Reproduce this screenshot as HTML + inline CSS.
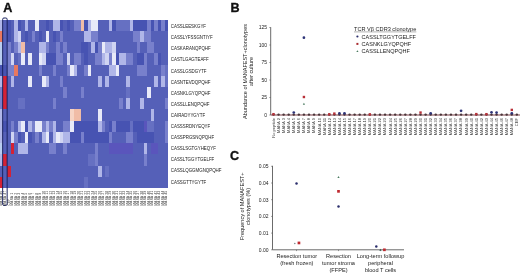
<!DOCTYPE html><html><head><meta charset="utf-8"><style>html,body{margin:0;padding:0;background:#fff;}svg{display:block}text{font-family:"Liberation Sans",Arial,sans-serif;}</style></head><body>
<svg width="520" height="273" viewBox="0 0 520 273">
<text x="3.3" y="11.6" font-size="12.6" font-weight="bold" fill="#111" stroke="#111" stroke-width="0.35">A</text>
<defs><filter id="bl" x="-2%" y="-2%" width="104%" height="104%"><feGaussianBlur stdDeviation="0.35"/></filter></defs>
<g shape-rendering="crispEdges" filter="url(#bl)">
<rect x="0.30" y="19.60" width="2.75" height="11.28" fill="#b0b6e8"/>
<rect x="3.00" y="19.60" width="4.35" height="11.28" fill="#5560b8"/>
<rect x="7.30" y="19.60" width="3.55" height="11.28" fill="#4652b2"/>
<rect x="10.80" y="19.60" width="3.55" height="11.28" fill="#5560b8"/>
<rect x="14.30" y="19.60" width="3.55" height="11.28" fill="#b0b6e8"/>
<rect x="17.80" y="19.60" width="3.55" height="11.28" fill="#4652b2"/>
<rect x="21.30" y="19.60" width="3.55" height="11.28" fill="#5560b8"/>
<rect x="24.80" y="19.60" width="3.55" height="11.28" fill="#b0b6e8"/>
<rect x="28.30" y="19.60" width="3.55" height="11.28" fill="#5560b8"/>
<rect x="31.80" y="19.60" width="3.55" height="11.28" fill="#5560b8"/>
<rect x="35.30" y="19.60" width="3.55" height="11.28" fill="#e8eaf8"/>
<rect x="38.80" y="19.60" width="3.55" height="11.28" fill="#5560b8"/>
<rect x="42.30" y="19.60" width="3.55" height="11.28" fill="#5560b8"/>
<rect x="45.80" y="19.60" width="3.55" height="11.28" fill="#4652b2"/>
<rect x="49.30" y="19.60" width="3.55" height="11.28" fill="#5560b8"/>
<rect x="52.80" y="19.60" width="3.55" height="11.28" fill="#b0b6e8"/>
<rect x="56.30" y="19.60" width="3.55" height="11.28" fill="#b0b6e8"/>
<rect x="59.80" y="19.60" width="3.55" height="11.28" fill="#4652b2"/>
<rect x="63.30" y="19.60" width="3.55" height="11.28" fill="#5560b8"/>
<rect x="66.80" y="19.60" width="3.55" height="11.28" fill="#4652b2"/>
<rect x="70.30" y="19.60" width="3.55" height="11.28" fill="#5560b8"/>
<rect x="73.80" y="19.60" width="3.55" height="11.28" fill="#7880cc"/>
<rect x="77.30" y="19.60" width="3.55" height="11.28" fill="#7880cc"/>
<rect x="80.80" y="19.60" width="3.55" height="11.28" fill="#f0bca6"/>
<rect x="84.30" y="19.60" width="3.55" height="11.28" fill="#4652b2"/>
<rect x="87.80" y="19.60" width="3.55" height="11.28" fill="#b0b6e8"/>
<rect x="91.30" y="19.60" width="3.55" height="11.28" fill="#e8eaf8"/>
<rect x="94.80" y="19.60" width="3.55" height="11.28" fill="#e8eaf8"/>
<rect x="98.30" y="19.60" width="3.55" height="11.28" fill="#5560b8"/>
<rect x="101.80" y="19.60" width="3.55" height="11.28" fill="#5560b8"/>
<rect x="105.30" y="19.60" width="3.55" height="11.28" fill="#5560b8"/>
<rect x="108.80" y="19.60" width="3.55" height="11.28" fill="#b0b6e8"/>
<rect x="112.30" y="19.60" width="3.55" height="11.28" fill="#4652b2"/>
<rect x="115.80" y="19.60" width="3.55" height="11.28" fill="#6670c2"/>
<rect x="119.30" y="19.60" width="3.55" height="11.28" fill="#6670c2"/>
<rect x="122.80" y="19.60" width="3.55" height="11.28" fill="#6670c2"/>
<rect x="126.30" y="19.60" width="3.55" height="11.28" fill="#6670c2"/>
<rect x="129.80" y="19.60" width="3.55" height="11.28" fill="#b0b6e8"/>
<rect x="133.30" y="19.60" width="3.55" height="11.28" fill="#4652b2"/>
<rect x="136.80" y="19.60" width="3.55" height="11.28" fill="#4652b2"/>
<rect x="140.30" y="19.60" width="3.55" height="11.28" fill="#4652b2"/>
<rect x="143.80" y="19.60" width="3.55" height="11.28" fill="#4652b2"/>
<rect x="147.30" y="19.60" width="3.55" height="11.28" fill="#7880cc"/>
<rect x="150.80" y="19.60" width="3.55" height="11.28" fill="#4652b2"/>
<rect x="154.30" y="19.60" width="3.55" height="11.28" fill="#7880cc"/>
<rect x="157.80" y="19.60" width="3.55" height="11.28" fill="#4652b2"/>
<rect x="161.30" y="19.60" width="3.55" height="11.28" fill="#7880cc"/>
<rect x="164.80" y="19.60" width="3.55" height="11.28" fill="#4652b2"/>
<rect x="0.30" y="30.83" width="2.75" height="11.28" fill="#e87860"/>
<rect x="3.00" y="30.83" width="4.35" height="11.28" fill="#5560b8"/>
<rect x="7.30" y="30.83" width="3.55" height="11.28" fill="#4652b2"/>
<rect x="10.80" y="30.83" width="3.55" height="11.28" fill="#5560b8"/>
<rect x="14.30" y="30.83" width="3.55" height="11.28" fill="#b0b6e8"/>
<rect x="17.80" y="30.83" width="3.55" height="11.28" fill="#d0d4f2"/>
<rect x="21.30" y="30.83" width="3.55" height="11.28" fill="#5560b8"/>
<rect x="24.80" y="30.83" width="3.55" height="11.28" fill="#4652b2"/>
<rect x="28.30" y="30.83" width="3.55" height="11.28" fill="#5560b8"/>
<rect x="31.80" y="30.83" width="3.55" height="11.28" fill="#7880cc"/>
<rect x="35.30" y="30.83" width="3.55" height="11.28" fill="#5560b8"/>
<rect x="38.80" y="30.83" width="3.55" height="11.28" fill="#4652b2"/>
<rect x="42.30" y="30.83" width="3.55" height="11.28" fill="#5560b8"/>
<rect x="45.80" y="30.83" width="3.55" height="11.28" fill="#e8eaf8"/>
<rect x="49.30" y="30.83" width="3.55" height="11.28" fill="#5560b8"/>
<rect x="52.80" y="30.83" width="3.55" height="11.28" fill="#4652b2"/>
<rect x="56.30" y="30.83" width="3.55" height="11.28" fill="#5560b8"/>
<rect x="59.80" y="30.83" width="3.55" height="11.28" fill="#7880cc"/>
<rect x="63.30" y="30.83" width="3.55" height="11.28" fill="#5560b8"/>
<rect x="66.80" y="30.83" width="3.55" height="11.28" fill="#5560b8"/>
<rect x="70.30" y="30.83" width="3.55" height="11.28" fill="#5560b8"/>
<rect x="73.80" y="30.83" width="3.55" height="11.28" fill="#5560b8"/>
<rect x="77.30" y="30.83" width="3.55" height="11.28" fill="#5560b8"/>
<rect x="80.80" y="30.83" width="3.55" height="11.28" fill="#5560b8"/>
<rect x="84.30" y="30.83" width="3.55" height="11.28" fill="#b0b6e8"/>
<rect x="87.80" y="30.83" width="3.55" height="11.28" fill="#b0b6e8"/>
<rect x="91.30" y="30.83" width="3.55" height="11.28" fill="#7880cc"/>
<rect x="94.80" y="30.83" width="3.55" height="11.28" fill="#7880cc"/>
<rect x="98.30" y="30.83" width="3.55" height="11.28" fill="#5560b8"/>
<rect x="101.80" y="30.83" width="3.55" height="11.28" fill="#5560b8"/>
<rect x="105.30" y="30.83" width="3.55" height="11.28" fill="#5560b8"/>
<rect x="108.80" y="30.83" width="3.55" height="11.28" fill="#5560b8"/>
<rect x="112.30" y="30.83" width="3.55" height="11.28" fill="#5560b8"/>
<rect x="115.80" y="30.83" width="3.55" height="11.28" fill="#5560b8"/>
<rect x="119.30" y="30.83" width="3.55" height="11.28" fill="#5560b8"/>
<rect x="122.80" y="30.83" width="3.55" height="11.28" fill="#5560b8"/>
<rect x="126.30" y="30.83" width="3.55" height="11.28" fill="#5560b8"/>
<rect x="129.80" y="30.83" width="3.55" height="11.28" fill="#5560b8"/>
<rect x="133.30" y="30.83" width="3.55" height="11.28" fill="#7880cc"/>
<rect x="136.80" y="30.83" width="3.55" height="11.28" fill="#7880cc"/>
<rect x="140.30" y="30.83" width="3.55" height="11.28" fill="#b0b6e8"/>
<rect x="143.80" y="30.83" width="3.55" height="11.28" fill="#7880cc"/>
<rect x="147.30" y="30.83" width="3.55" height="11.28" fill="#7880cc"/>
<rect x="150.80" y="30.83" width="3.55" height="11.28" fill="#5560b8"/>
<rect x="154.30" y="30.83" width="3.55" height="11.28" fill="#5560b8"/>
<rect x="157.80" y="30.83" width="3.55" height="11.28" fill="#5560b8"/>
<rect x="161.30" y="30.83" width="3.55" height="11.28" fill="#5560b8"/>
<rect x="164.80" y="30.83" width="3.55" height="11.28" fill="#5560b8"/>
<rect x="0.30" y="42.05" width="2.75" height="11.28" fill="#b8cdf0"/>
<rect x="3.00" y="42.05" width="4.35" height="11.28" fill="#5560b8"/>
<rect x="7.30" y="42.05" width="3.55" height="11.28" fill="#7880cc"/>
<rect x="10.80" y="42.05" width="3.55" height="11.28" fill="#5560b8"/>
<rect x="14.30" y="42.05" width="3.55" height="11.28" fill="#7880cc"/>
<rect x="17.80" y="42.05" width="3.55" height="11.28" fill="#b0b6e8"/>
<rect x="21.30" y="42.05" width="3.55" height="11.28" fill="#f0bca6"/>
<rect x="24.80" y="42.05" width="3.55" height="11.28" fill="#5560b8"/>
<rect x="28.30" y="42.05" width="3.55" height="11.28" fill="#5560b8"/>
<rect x="31.80" y="42.05" width="3.55" height="11.28" fill="#5560b8"/>
<rect x="35.30" y="42.05" width="3.55" height="11.28" fill="#5560b8"/>
<rect x="38.80" y="42.05" width="3.55" height="11.28" fill="#b0b6e8"/>
<rect x="42.30" y="42.05" width="3.55" height="11.28" fill="#b0b6e8"/>
<rect x="45.80" y="42.05" width="3.55" height="11.28" fill="#7880cc"/>
<rect x="49.30" y="42.05" width="3.55" height="11.28" fill="#5560b8"/>
<rect x="52.80" y="42.05" width="3.55" height="11.28" fill="#5560b8"/>
<rect x="56.30" y="42.05" width="3.55" height="11.28" fill="#7880cc"/>
<rect x="59.80" y="42.05" width="3.55" height="11.28" fill="#5560b8"/>
<rect x="63.30" y="42.05" width="3.55" height="11.28" fill="#7880cc"/>
<rect x="66.80" y="42.05" width="3.55" height="11.28" fill="#5560b8"/>
<rect x="70.30" y="42.05" width="3.55" height="11.28" fill="#5560b8"/>
<rect x="73.80" y="42.05" width="3.55" height="11.28" fill="#5560b8"/>
<rect x="77.30" y="42.05" width="3.55" height="11.28" fill="#5560b8"/>
<rect x="80.80" y="42.05" width="3.55" height="11.28" fill="#4652b2"/>
<rect x="84.30" y="42.05" width="3.55" height="11.28" fill="#4652b2"/>
<rect x="87.80" y="42.05" width="3.55" height="11.28" fill="#5560b8"/>
<rect x="91.30" y="42.05" width="3.55" height="11.28" fill="#b0b6e8"/>
<rect x="94.80" y="42.05" width="3.55" height="11.28" fill="#4652b2"/>
<rect x="98.30" y="42.05" width="3.55" height="11.28" fill="#7880cc"/>
<rect x="101.80" y="42.05" width="3.55" height="11.28" fill="#e8eaf8"/>
<rect x="105.30" y="42.05" width="3.55" height="11.28" fill="#b0b6e8"/>
<rect x="108.80" y="42.05" width="3.55" height="11.28" fill="#b0b6e8"/>
<rect x="112.30" y="42.05" width="3.55" height="11.28" fill="#d0d4f2"/>
<rect x="115.80" y="42.05" width="3.55" height="11.28" fill="#5560b8"/>
<rect x="119.30" y="42.05" width="3.55" height="11.28" fill="#5560b8"/>
<rect x="122.80" y="42.05" width="3.55" height="11.28" fill="#5560b8"/>
<rect x="126.30" y="42.05" width="3.55" height="11.28" fill="#5560b8"/>
<rect x="129.80" y="42.05" width="3.55" height="11.28" fill="#5560b8"/>
<rect x="133.30" y="42.05" width="3.55" height="11.28" fill="#5560b8"/>
<rect x="136.80" y="42.05" width="3.55" height="11.28" fill="#7880cc"/>
<rect x="140.30" y="42.05" width="3.55" height="11.28" fill="#5560b8"/>
<rect x="143.80" y="42.05" width="3.55" height="11.28" fill="#5560b8"/>
<rect x="147.30" y="42.05" width="3.55" height="11.28" fill="#7880cc"/>
<rect x="150.80" y="42.05" width="3.55" height="11.28" fill="#7880cc"/>
<rect x="154.30" y="42.05" width="3.55" height="11.28" fill="#5560b8"/>
<rect x="157.80" y="42.05" width="3.55" height="11.28" fill="#5560b8"/>
<rect x="161.30" y="42.05" width="3.55" height="11.28" fill="#5560b8"/>
<rect x="164.80" y="42.05" width="3.55" height="11.28" fill="#5560b8"/>
<rect x="0.30" y="53.28" width="2.75" height="11.28" fill="#b8cdf0"/>
<rect x="3.00" y="53.28" width="4.35" height="11.28" fill="#5560b8"/>
<rect x="7.30" y="53.28" width="3.55" height="11.28" fill="#7880cc"/>
<rect x="10.80" y="53.28" width="3.55" height="11.28" fill="#d0d4f2"/>
<rect x="14.30" y="53.28" width="3.55" height="11.28" fill="#5560b8"/>
<rect x="17.80" y="53.28" width="3.55" height="11.28" fill="#6670c2"/>
<rect x="21.30" y="53.28" width="3.55" height="11.28" fill="#e8eaf8"/>
<rect x="24.80" y="53.28" width="3.55" height="11.28" fill="#5560b8"/>
<rect x="28.30" y="53.28" width="3.55" height="11.28" fill="#e8eaf8"/>
<rect x="31.80" y="53.28" width="3.55" height="11.28" fill="#5560b8"/>
<rect x="35.30" y="53.28" width="3.55" height="11.28" fill="#5560b8"/>
<rect x="38.80" y="53.28" width="3.55" height="11.28" fill="#e8eaf8"/>
<rect x="42.30" y="53.28" width="3.55" height="11.28" fill="#d0d4f2"/>
<rect x="45.80" y="53.28" width="3.55" height="11.28" fill="#4652b2"/>
<rect x="49.30" y="53.28" width="3.55" height="11.28" fill="#4652b2"/>
<rect x="52.80" y="53.28" width="3.55" height="11.28" fill="#4652b2"/>
<rect x="56.30" y="53.28" width="3.55" height="11.28" fill="#7880cc"/>
<rect x="59.80" y="53.28" width="3.55" height="11.28" fill="#7880cc"/>
<rect x="63.30" y="53.28" width="3.55" height="11.28" fill="#5560b8"/>
<rect x="66.80" y="53.28" width="3.55" height="11.28" fill="#d0d4f2"/>
<rect x="70.30" y="53.28" width="3.55" height="11.28" fill="#5560b8"/>
<rect x="73.80" y="53.28" width="3.55" height="11.28" fill="#7880cc"/>
<rect x="77.30" y="53.28" width="3.55" height="11.28" fill="#7880cc"/>
<rect x="80.80" y="53.28" width="3.55" height="11.28" fill="#5560b8"/>
<rect x="84.30" y="53.28" width="3.55" height="11.28" fill="#4652b2"/>
<rect x="87.80" y="53.28" width="3.55" height="11.28" fill="#5560b8"/>
<rect x="91.30" y="53.28" width="3.55" height="11.28" fill="#5560b8"/>
<rect x="94.80" y="53.28" width="3.55" height="11.28" fill="#7880cc"/>
<rect x="98.30" y="53.28" width="3.55" height="11.28" fill="#7880cc"/>
<rect x="101.80" y="53.28" width="3.55" height="11.28" fill="#b0b6e8"/>
<rect x="105.30" y="53.28" width="3.55" height="11.28" fill="#d0d4f2"/>
<rect x="108.80" y="53.28" width="3.55" height="11.28" fill="#7880cc"/>
<rect x="112.30" y="53.28" width="3.55" height="11.28" fill="#e8eaf8"/>
<rect x="115.80" y="53.28" width="3.55" height="11.28" fill="#4652b2"/>
<rect x="119.30" y="53.28" width="3.55" height="11.28" fill="#b0b6e8"/>
<rect x="122.80" y="53.28" width="3.55" height="11.28" fill="#b0b6e8"/>
<rect x="126.30" y="53.28" width="3.55" height="11.28" fill="#7880cc"/>
<rect x="129.80" y="53.28" width="3.55" height="11.28" fill="#7880cc"/>
<rect x="133.30" y="53.28" width="3.55" height="11.28" fill="#5560b8"/>
<rect x="136.80" y="53.28" width="3.55" height="11.28" fill="#4652b2"/>
<rect x="140.30" y="53.28" width="3.55" height="11.28" fill="#4652b2"/>
<rect x="143.80" y="53.28" width="3.55" height="11.28" fill="#7880cc"/>
<rect x="147.30" y="53.28" width="3.55" height="11.28" fill="#5560b8"/>
<rect x="150.80" y="53.28" width="3.55" height="11.28" fill="#5560b8"/>
<rect x="154.30" y="53.28" width="3.55" height="11.28" fill="#7880cc"/>
<rect x="157.80" y="53.28" width="3.55" height="11.28" fill="#4652b2"/>
<rect x="161.30" y="53.28" width="3.55" height="11.28" fill="#5560b8"/>
<rect x="164.80" y="53.28" width="3.55" height="11.28" fill="#5560b8"/>
<rect x="0.30" y="64.51" width="2.75" height="11.28" fill="#4652b2"/>
<rect x="3.00" y="64.51" width="4.35" height="11.28" fill="#4652b2"/>
<rect x="7.30" y="64.51" width="3.55" height="11.28" fill="#7880cc"/>
<rect x="10.80" y="64.51" width="3.55" height="11.28" fill="#7880cc"/>
<rect x="14.30" y="64.51" width="3.55" height="11.28" fill="#e87860"/>
<rect x="17.80" y="64.51" width="3.55" height="11.28" fill="#5560b8"/>
<rect x="21.30" y="64.51" width="3.55" height="11.28" fill="#5560b8"/>
<rect x="24.80" y="64.51" width="3.55" height="11.28" fill="#5560b8"/>
<rect x="28.30" y="64.51" width="3.55" height="11.28" fill="#5560b8"/>
<rect x="31.80" y="64.51" width="3.55" height="11.28" fill="#5560b8"/>
<rect x="35.30" y="64.51" width="3.55" height="11.28" fill="#5560b8"/>
<rect x="38.80" y="64.51" width="3.55" height="11.28" fill="#7880cc"/>
<rect x="42.30" y="64.51" width="3.55" height="11.28" fill="#5560b8"/>
<rect x="45.80" y="64.51" width="3.55" height="11.28" fill="#5560b8"/>
<rect x="49.30" y="64.51" width="3.55" height="11.28" fill="#5560b8"/>
<rect x="52.80" y="64.51" width="3.55" height="11.28" fill="#7880cc"/>
<rect x="56.30" y="64.51" width="3.55" height="11.28" fill="#5560b8"/>
<rect x="59.80" y="64.51" width="3.55" height="11.28" fill="#5560b8"/>
<rect x="63.30" y="64.51" width="3.55" height="11.28" fill="#5560b8"/>
<rect x="66.80" y="64.51" width="3.55" height="11.28" fill="#7880cc"/>
<rect x="70.30" y="64.51" width="3.55" height="11.28" fill="#e8eaf8"/>
<rect x="73.80" y="64.51" width="3.55" height="11.28" fill="#b0b6e8"/>
<rect x="77.30" y="64.51" width="3.55" height="11.28" fill="#5560b8"/>
<rect x="80.80" y="64.51" width="3.55" height="11.28" fill="#5560b8"/>
<rect x="84.30" y="64.51" width="3.55" height="11.28" fill="#7880cc"/>
<rect x="87.80" y="64.51" width="3.55" height="11.28" fill="#e8eaf8"/>
<rect x="91.30" y="64.51" width="3.55" height="11.28" fill="#5560b8"/>
<rect x="94.80" y="64.51" width="3.55" height="11.28" fill="#5560b8"/>
<rect x="98.30" y="64.51" width="3.55" height="11.28" fill="#5560b8"/>
<rect x="101.80" y="64.51" width="3.55" height="11.28" fill="#5560b8"/>
<rect x="105.30" y="64.51" width="3.55" height="11.28" fill="#5560b8"/>
<rect x="108.80" y="64.51" width="3.55" height="11.28" fill="#b0b6e8"/>
<rect x="112.30" y="64.51" width="3.55" height="11.28" fill="#b0b6e8"/>
<rect x="115.80" y="64.51" width="3.55" height="11.28" fill="#e8eaf8"/>
<rect x="119.30" y="64.51" width="3.55" height="11.28" fill="#5560b8"/>
<rect x="122.80" y="64.51" width="3.55" height="11.28" fill="#5560b8"/>
<rect x="126.30" y="64.51" width="3.55" height="11.28" fill="#5560b8"/>
<rect x="129.80" y="64.51" width="3.55" height="11.28" fill="#5560b8"/>
<rect x="133.30" y="64.51" width="3.55" height="11.28" fill="#5560b8"/>
<rect x="136.80" y="64.51" width="3.55" height="11.28" fill="#7880cc"/>
<rect x="140.30" y="64.51" width="3.55" height="11.28" fill="#7880cc"/>
<rect x="143.80" y="64.51" width="3.55" height="11.28" fill="#7880cc"/>
<rect x="147.30" y="64.51" width="3.55" height="11.28" fill="#5560b8"/>
<rect x="150.80" y="64.51" width="3.55" height="11.28" fill="#5560b8"/>
<rect x="154.30" y="64.51" width="3.55" height="11.28" fill="#5560b8"/>
<rect x="157.80" y="64.51" width="3.55" height="11.28" fill="#5560b8"/>
<rect x="161.30" y="64.51" width="3.55" height="11.28" fill="#7880cc"/>
<rect x="164.80" y="64.51" width="3.55" height="11.28" fill="#6670c2"/>
<rect x="0.30" y="75.73" width="2.75" height="11.28" fill="#b0b6e8"/>
<rect x="3.00" y="75.73" width="4.35" height="11.28" fill="#d42434"/>
<rect x="7.30" y="75.73" width="3.55" height="11.28" fill="#5560b8"/>
<rect x="10.80" y="75.73" width="3.55" height="11.28" fill="#b0b6e8"/>
<rect x="14.30" y="75.73" width="3.55" height="11.28" fill="#5560b8"/>
<rect x="17.80" y="75.73" width="3.55" height="11.28" fill="#5560b8"/>
<rect x="21.30" y="75.73" width="3.55" height="11.28" fill="#5560b8"/>
<rect x="24.80" y="75.73" width="3.55" height="11.28" fill="#5560b8"/>
<rect x="28.30" y="75.73" width="3.55" height="11.28" fill="#e8eaf8"/>
<rect x="31.80" y="75.73" width="3.55" height="11.28" fill="#5560b8"/>
<rect x="35.30" y="75.73" width="3.55" height="11.28" fill="#5560b8"/>
<rect x="38.80" y="75.73" width="3.55" height="11.28" fill="#5560b8"/>
<rect x="42.30" y="75.73" width="3.55" height="11.28" fill="#e8eaf8"/>
<rect x="45.80" y="75.73" width="3.55" height="11.28" fill="#b0b6e8"/>
<rect x="49.30" y="75.73" width="3.55" height="11.28" fill="#5560b8"/>
<rect x="52.80" y="75.73" width="3.55" height="11.28" fill="#5560b8"/>
<rect x="56.30" y="75.73" width="3.55" height="11.28" fill="#5560b8"/>
<rect x="59.80" y="75.73" width="3.55" height="11.28" fill="#7880cc"/>
<rect x="63.30" y="75.73" width="3.55" height="11.28" fill="#5560b8"/>
<rect x="66.80" y="75.73" width="3.55" height="11.28" fill="#5560b8"/>
<rect x="70.30" y="75.73" width="3.55" height="11.28" fill="#5560b8"/>
<rect x="73.80" y="75.73" width="3.55" height="11.28" fill="#5560b8"/>
<rect x="77.30" y="75.73" width="3.55" height="11.28" fill="#5560b8"/>
<rect x="80.80" y="75.73" width="3.55" height="11.28" fill="#5560b8"/>
<rect x="84.30" y="75.73" width="3.55" height="11.28" fill="#5560b8"/>
<rect x="87.80" y="75.73" width="3.55" height="11.28" fill="#5560b8"/>
<rect x="91.30" y="75.73" width="3.55" height="11.28" fill="#5560b8"/>
<rect x="94.80" y="75.73" width="3.55" height="11.28" fill="#5560b8"/>
<rect x="98.30" y="75.73" width="3.55" height="11.28" fill="#b0b6e8"/>
<rect x="101.80" y="75.73" width="3.55" height="11.28" fill="#5560b8"/>
<rect x="105.30" y="75.73" width="3.55" height="11.28" fill="#b0b6e8"/>
<rect x="108.80" y="75.73" width="3.55" height="11.28" fill="#5560b8"/>
<rect x="112.30" y="75.73" width="3.55" height="11.28" fill="#5560b8"/>
<rect x="115.80" y="75.73" width="3.55" height="11.28" fill="#5560b8"/>
<rect x="119.30" y="75.73" width="3.55" height="11.28" fill="#5560b8"/>
<rect x="122.80" y="75.73" width="3.55" height="11.28" fill="#5560b8"/>
<rect x="126.30" y="75.73" width="3.55" height="11.28" fill="#b0b6e8"/>
<rect x="129.80" y="75.73" width="3.55" height="11.28" fill="#5560b8"/>
<rect x="133.30" y="75.73" width="3.55" height="11.28" fill="#5560b8"/>
<rect x="136.80" y="75.73" width="3.55" height="11.28" fill="#5560b8"/>
<rect x="140.30" y="75.73" width="3.55" height="11.28" fill="#5560b8"/>
<rect x="143.80" y="75.73" width="3.55" height="11.28" fill="#5560b8"/>
<rect x="147.30" y="75.73" width="3.55" height="11.28" fill="#5560b8"/>
<rect x="150.80" y="75.73" width="3.55" height="11.28" fill="#5560b8"/>
<rect x="154.30" y="75.73" width="3.55" height="11.28" fill="#b0b6e8"/>
<rect x="157.80" y="75.73" width="3.55" height="11.28" fill="#5560b8"/>
<rect x="161.30" y="75.73" width="3.55" height="11.28" fill="#b0b6e8"/>
<rect x="164.80" y="75.73" width="3.55" height="11.28" fill="#6670c2"/>
<rect x="0.30" y="86.96" width="2.75" height="11.28" fill="#7880cc"/>
<rect x="3.00" y="86.96" width="4.35" height="11.28" fill="#d42434"/>
<rect x="7.30" y="86.96" width="3.55" height="11.28" fill="#5560b8"/>
<rect x="10.80" y="86.96" width="3.55" height="11.28" fill="#5560b8"/>
<rect x="14.30" y="86.96" width="3.55" height="11.28" fill="#5560b8"/>
<rect x="17.80" y="86.96" width="3.55" height="11.28" fill="#5560b8"/>
<rect x="21.30" y="86.96" width="3.55" height="11.28" fill="#5560b8"/>
<rect x="24.80" y="86.96" width="3.55" height="11.28" fill="#5560b8"/>
<rect x="28.30" y="86.96" width="3.55" height="11.28" fill="#5560b8"/>
<rect x="31.80" y="86.96" width="3.55" height="11.28" fill="#5560b8"/>
<rect x="35.30" y="86.96" width="3.55" height="11.28" fill="#5560b8"/>
<rect x="38.80" y="86.96" width="3.55" height="11.28" fill="#5560b8"/>
<rect x="42.30" y="86.96" width="3.55" height="11.28" fill="#5560b8"/>
<rect x="45.80" y="86.96" width="3.55" height="11.28" fill="#5560b8"/>
<rect x="49.30" y="86.96" width="3.55" height="11.28" fill="#5560b8"/>
<rect x="52.80" y="86.96" width="3.55" height="11.28" fill="#5560b8"/>
<rect x="56.30" y="86.96" width="3.55" height="11.28" fill="#5560b8"/>
<rect x="59.80" y="86.96" width="3.55" height="11.28" fill="#5560b8"/>
<rect x="63.30" y="86.96" width="3.55" height="11.28" fill="#7880cc"/>
<rect x="66.80" y="86.96" width="3.55" height="11.28" fill="#5560b8"/>
<rect x="70.30" y="86.96" width="3.55" height="11.28" fill="#5560b8"/>
<rect x="73.80" y="86.96" width="3.55" height="11.28" fill="#5560b8"/>
<rect x="77.30" y="86.96" width="3.55" height="11.28" fill="#5560b8"/>
<rect x="80.80" y="86.96" width="3.55" height="11.28" fill="#7880cc"/>
<rect x="84.30" y="86.96" width="3.55" height="11.28" fill="#5560b8"/>
<rect x="87.80" y="86.96" width="3.55" height="11.28" fill="#5560b8"/>
<rect x="91.30" y="86.96" width="3.55" height="11.28" fill="#5560b8"/>
<rect x="94.80" y="86.96" width="3.55" height="11.28" fill="#5560b8"/>
<rect x="98.30" y="86.96" width="3.55" height="11.28" fill="#5560b8"/>
<rect x="101.80" y="86.96" width="3.55" height="11.28" fill="#5560b8"/>
<rect x="105.30" y="86.96" width="3.55" height="11.28" fill="#5560b8"/>
<rect x="108.80" y="86.96" width="3.55" height="11.28" fill="#5560b8"/>
<rect x="112.30" y="86.96" width="3.55" height="11.28" fill="#5560b8"/>
<rect x="115.80" y="86.96" width="3.55" height="11.28" fill="#5560b8"/>
<rect x="119.30" y="86.96" width="3.55" height="11.28" fill="#5560b8"/>
<rect x="122.80" y="86.96" width="3.55" height="11.28" fill="#5560b8"/>
<rect x="126.30" y="86.96" width="3.55" height="11.28" fill="#6670c2"/>
<rect x="129.80" y="86.96" width="3.55" height="11.28" fill="#5560b8"/>
<rect x="133.30" y="86.96" width="3.55" height="11.28" fill="#5560b8"/>
<rect x="136.80" y="86.96" width="3.55" height="11.28" fill="#5560b8"/>
<rect x="140.30" y="86.96" width="3.55" height="11.28" fill="#5560b8"/>
<rect x="143.80" y="86.96" width="3.55" height="11.28" fill="#5560b8"/>
<rect x="147.30" y="86.96" width="3.55" height="11.28" fill="#e8eaf8"/>
<rect x="150.80" y="86.96" width="3.55" height="11.28" fill="#5560b8"/>
<rect x="154.30" y="86.96" width="3.55" height="11.28" fill="#5560b8"/>
<rect x="157.80" y="86.96" width="3.55" height="11.28" fill="#5560b8"/>
<rect x="161.30" y="86.96" width="3.55" height="11.28" fill="#5560b8"/>
<rect x="164.80" y="86.96" width="3.55" height="11.28" fill="#5560b8"/>
<rect x="0.30" y="98.19" width="2.75" height="11.28" fill="#7880cc"/>
<rect x="3.00" y="98.19" width="4.35" height="11.28" fill="#d42434"/>
<rect x="7.30" y="98.19" width="3.55" height="11.28" fill="#5560b8"/>
<rect x="10.80" y="98.19" width="3.55" height="11.28" fill="#5560b8"/>
<rect x="14.30" y="98.19" width="3.55" height="11.28" fill="#5560b8"/>
<rect x="17.80" y="98.19" width="3.55" height="11.28" fill="#6670c2"/>
<rect x="21.30" y="98.19" width="3.55" height="11.28" fill="#6670c2"/>
<rect x="24.80" y="98.19" width="3.55" height="11.28" fill="#5560b8"/>
<rect x="28.30" y="98.19" width="3.55" height="11.28" fill="#5560b8"/>
<rect x="31.80" y="98.19" width="3.55" height="11.28" fill="#5560b8"/>
<rect x="35.30" y="98.19" width="3.55" height="11.28" fill="#5560b8"/>
<rect x="38.80" y="98.19" width="3.55" height="11.28" fill="#5560b8"/>
<rect x="42.30" y="98.19" width="3.55" height="11.28" fill="#5560b8"/>
<rect x="45.80" y="98.19" width="3.55" height="11.28" fill="#5560b8"/>
<rect x="49.30" y="98.19" width="3.55" height="11.28" fill="#5560b8"/>
<rect x="52.80" y="98.19" width="3.55" height="11.28" fill="#7880cc"/>
<rect x="56.30" y="98.19" width="3.55" height="11.28" fill="#5560b8"/>
<rect x="59.80" y="98.19" width="3.55" height="11.28" fill="#5560b8"/>
<rect x="63.30" y="98.19" width="3.55" height="11.28" fill="#5560b8"/>
<rect x="66.80" y="98.19" width="3.55" height="11.28" fill="#5560b8"/>
<rect x="70.30" y="98.19" width="3.55" height="11.28" fill="#5560b8"/>
<rect x="73.80" y="98.19" width="3.55" height="11.28" fill="#5560b8"/>
<rect x="77.30" y="98.19" width="3.55" height="11.28" fill="#5560b8"/>
<rect x="80.80" y="98.19" width="3.55" height="11.28" fill="#5560b8"/>
<rect x="84.30" y="98.19" width="3.55" height="11.28" fill="#5560b8"/>
<rect x="87.80" y="98.19" width="3.55" height="11.28" fill="#5560b8"/>
<rect x="91.30" y="98.19" width="3.55" height="11.28" fill="#5560b8"/>
<rect x="94.80" y="98.19" width="3.55" height="11.28" fill="#5560b8"/>
<rect x="98.30" y="98.19" width="3.55" height="11.28" fill="#5560b8"/>
<rect x="101.80" y="98.19" width="3.55" height="11.28" fill="#5560b8"/>
<rect x="105.30" y="98.19" width="3.55" height="11.28" fill="#5560b8"/>
<rect x="108.80" y="98.19" width="3.55" height="11.28" fill="#5560b8"/>
<rect x="112.30" y="98.19" width="3.55" height="11.28" fill="#5560b8"/>
<rect x="115.80" y="98.19" width="3.55" height="11.28" fill="#5560b8"/>
<rect x="119.30" y="98.19" width="3.55" height="11.28" fill="#7880cc"/>
<rect x="122.80" y="98.19" width="3.55" height="11.28" fill="#5560b8"/>
<rect x="126.30" y="98.19" width="3.55" height="11.28" fill="#b0b6e8"/>
<rect x="129.80" y="98.19" width="3.55" height="11.28" fill="#5560b8"/>
<rect x="133.30" y="98.19" width="3.55" height="11.28" fill="#5560b8"/>
<rect x="136.80" y="98.19" width="3.55" height="11.28" fill="#5560b8"/>
<rect x="140.30" y="98.19" width="3.55" height="11.28" fill="#b0b6e8"/>
<rect x="143.80" y="98.19" width="3.55" height="11.28" fill="#5560b8"/>
<rect x="147.30" y="98.19" width="3.55" height="11.28" fill="#5560b8"/>
<rect x="150.80" y="98.19" width="3.55" height="11.28" fill="#5560b8"/>
<rect x="154.30" y="98.19" width="3.55" height="11.28" fill="#5560b8"/>
<rect x="157.80" y="98.19" width="3.55" height="11.28" fill="#5560b8"/>
<rect x="161.30" y="98.19" width="3.55" height="11.28" fill="#5560b8"/>
<rect x="164.80" y="98.19" width="3.55" height="11.28" fill="#7880cc"/>
<rect x="0.30" y="109.41" width="2.75" height="11.28" fill="#b0b6e8"/>
<rect x="3.00" y="109.41" width="4.35" height="11.28" fill="#5560b8"/>
<rect x="7.30" y="109.41" width="3.55" height="11.28" fill="#5560b8"/>
<rect x="10.80" y="109.41" width="3.55" height="11.28" fill="#5560b8"/>
<rect x="14.30" y="109.41" width="3.55" height="11.28" fill="#5560b8"/>
<rect x="17.80" y="109.41" width="3.55" height="11.28" fill="#5560b8"/>
<rect x="21.30" y="109.41" width="3.55" height="11.28" fill="#5560b8"/>
<rect x="24.80" y="109.41" width="3.55" height="11.28" fill="#5560b8"/>
<rect x="28.30" y="109.41" width="3.55" height="11.28" fill="#5560b8"/>
<rect x="31.80" y="109.41" width="3.55" height="11.28" fill="#5560b8"/>
<rect x="35.30" y="109.41" width="3.55" height="11.28" fill="#5560b8"/>
<rect x="38.80" y="109.41" width="3.55" height="11.28" fill="#5560b8"/>
<rect x="42.30" y="109.41" width="3.55" height="11.28" fill="#5560b8"/>
<rect x="45.80" y="109.41" width="3.55" height="11.28" fill="#5560b8"/>
<rect x="49.30" y="109.41" width="3.55" height="11.28" fill="#5560b8"/>
<rect x="52.80" y="109.41" width="3.55" height="11.28" fill="#5560b8"/>
<rect x="56.30" y="109.41" width="3.55" height="11.28" fill="#5560b8"/>
<rect x="59.80" y="109.41" width="3.55" height="11.28" fill="#5560b8"/>
<rect x="63.30" y="109.41" width="3.55" height="11.28" fill="#5560b8"/>
<rect x="66.80" y="109.41" width="3.55" height="11.28" fill="#5560b8"/>
<rect x="70.30" y="109.41" width="3.55" height="11.28" fill="#f6d4c4"/>
<rect x="73.80" y="109.41" width="3.55" height="11.28" fill="#f0bca6"/>
<rect x="77.30" y="109.41" width="3.55" height="11.28" fill="#f0bca6"/>
<rect x="80.80" y="109.41" width="3.55" height="11.28" fill="#5560b8"/>
<rect x="84.30" y="109.41" width="3.55" height="11.28" fill="#5560b8"/>
<rect x="87.80" y="109.41" width="3.55" height="11.28" fill="#5560b8"/>
<rect x="91.30" y="109.41" width="3.55" height="11.28" fill="#5560b8"/>
<rect x="94.80" y="109.41" width="3.55" height="11.28" fill="#5560b8"/>
<rect x="98.30" y="109.41" width="3.55" height="11.28" fill="#e8eaf8"/>
<rect x="101.80" y="109.41" width="3.55" height="11.28" fill="#5560b8"/>
<rect x="105.30" y="109.41" width="3.55" height="11.28" fill="#5560b8"/>
<rect x="108.80" y="109.41" width="3.55" height="11.28" fill="#5560b8"/>
<rect x="112.30" y="109.41" width="3.55" height="11.28" fill="#5560b8"/>
<rect x="115.80" y="109.41" width="3.55" height="11.28" fill="#5560b8"/>
<rect x="119.30" y="109.41" width="3.55" height="11.28" fill="#5560b8"/>
<rect x="122.80" y="109.41" width="3.55" height="11.28" fill="#5560b8"/>
<rect x="126.30" y="109.41" width="3.55" height="11.28" fill="#5560b8"/>
<rect x="129.80" y="109.41" width="3.55" height="11.28" fill="#5560b8"/>
<rect x="133.30" y="109.41" width="3.55" height="11.28" fill="#5560b8"/>
<rect x="136.80" y="109.41" width="3.55" height="11.28" fill="#5560b8"/>
<rect x="140.30" y="109.41" width="3.55" height="11.28" fill="#5560b8"/>
<rect x="143.80" y="109.41" width="3.55" height="11.28" fill="#5560b8"/>
<rect x="147.30" y="109.41" width="3.55" height="11.28" fill="#5560b8"/>
<rect x="150.80" y="109.41" width="3.55" height="11.28" fill="#b0b6e8"/>
<rect x="154.30" y="109.41" width="3.55" height="11.28" fill="#5560b8"/>
<rect x="157.80" y="109.41" width="3.55" height="11.28" fill="#5560b8"/>
<rect x="161.30" y="109.41" width="3.55" height="11.28" fill="#5560b8"/>
<rect x="164.80" y="109.41" width="3.55" height="11.28" fill="#5560b8"/>
<rect x="0.30" y="120.64" width="2.75" height="11.28" fill="#b0b6e8"/>
<rect x="3.00" y="120.64" width="4.35" height="11.28" fill="#4652b2"/>
<rect x="7.30" y="120.64" width="3.55" height="11.28" fill="#5560b8"/>
<rect x="10.80" y="120.64" width="3.55" height="11.28" fill="#7880cc"/>
<rect x="14.30" y="120.64" width="3.55" height="11.28" fill="#5560b8"/>
<rect x="17.80" y="120.64" width="3.55" height="11.28" fill="#b0b6e8"/>
<rect x="21.30" y="120.64" width="3.55" height="11.28" fill="#e8eaf8"/>
<rect x="24.80" y="120.64" width="3.55" height="11.28" fill="#4652b2"/>
<rect x="28.30" y="120.64" width="3.55" height="11.28" fill="#b0b6e8"/>
<rect x="31.80" y="120.64" width="3.55" height="11.28" fill="#7880cc"/>
<rect x="35.30" y="120.64" width="3.55" height="11.28" fill="#e8eaf8"/>
<rect x="38.80" y="120.64" width="3.55" height="11.28" fill="#e8eaf8"/>
<rect x="42.30" y="120.64" width="3.55" height="11.28" fill="#7880cc"/>
<rect x="45.80" y="120.64" width="3.55" height="11.28" fill="#b0b6e8"/>
<rect x="49.30" y="120.64" width="3.55" height="11.28" fill="#7880cc"/>
<rect x="52.80" y="120.64" width="3.55" height="11.28" fill="#b0b6e8"/>
<rect x="56.30" y="120.64" width="3.55" height="11.28" fill="#5560b8"/>
<rect x="59.80" y="120.64" width="3.55" height="11.28" fill="#5560b8"/>
<rect x="63.30" y="120.64" width="3.55" height="11.28" fill="#7880cc"/>
<rect x="66.80" y="120.64" width="3.55" height="11.28" fill="#7880cc"/>
<rect x="70.30" y="120.64" width="3.55" height="11.28" fill="#e8eaf8"/>
<rect x="73.80" y="120.64" width="3.55" height="11.28" fill="#4652b2"/>
<rect x="77.30" y="120.64" width="3.55" height="11.28" fill="#4652b2"/>
<rect x="80.80" y="120.64" width="3.55" height="11.28" fill="#4652b2"/>
<rect x="84.30" y="120.64" width="3.55" height="11.28" fill="#4652b2"/>
<rect x="87.80" y="120.64" width="3.55" height="11.28" fill="#4652b2"/>
<rect x="91.30" y="120.64" width="3.55" height="11.28" fill="#4652b2"/>
<rect x="94.80" y="120.64" width="3.55" height="11.28" fill="#4652b2"/>
<rect x="98.30" y="120.64" width="3.55" height="11.28" fill="#b0b6e8"/>
<rect x="101.80" y="120.64" width="3.55" height="11.28" fill="#7880cc"/>
<rect x="105.30" y="120.64" width="3.55" height="11.28" fill="#5560b8"/>
<rect x="108.80" y="120.64" width="3.55" height="11.28" fill="#4652b2"/>
<rect x="112.30" y="120.64" width="3.55" height="11.28" fill="#7880cc"/>
<rect x="115.80" y="120.64" width="3.55" height="11.28" fill="#4652b2"/>
<rect x="119.30" y="120.64" width="3.55" height="11.28" fill="#4652b2"/>
<rect x="122.80" y="120.64" width="3.55" height="11.28" fill="#4652b2"/>
<rect x="126.30" y="120.64" width="3.55" height="11.28" fill="#4652b2"/>
<rect x="129.80" y="120.64" width="3.55" height="11.28" fill="#6670c2"/>
<rect x="133.30" y="120.64" width="3.55" height="11.28" fill="#4652b2"/>
<rect x="136.80" y="120.64" width="3.55" height="11.28" fill="#4652b2"/>
<rect x="140.30" y="120.64" width="3.55" height="11.28" fill="#4652b2"/>
<rect x="143.80" y="120.64" width="3.55" height="11.28" fill="#5a54bc"/>
<rect x="147.30" y="120.64" width="3.55" height="11.28" fill="#6670c2"/>
<rect x="150.80" y="120.64" width="3.55" height="11.28" fill="#6670c2"/>
<rect x="154.30" y="120.64" width="3.55" height="11.28" fill="#5560b8"/>
<rect x="157.80" y="120.64" width="3.55" height="11.28" fill="#5560b8"/>
<rect x="161.30" y="120.64" width="3.55" height="11.28" fill="#5560b8"/>
<rect x="164.80" y="120.64" width="3.55" height="11.28" fill="#7880cc"/>
<rect x="0.30" y="131.87" width="2.75" height="11.28" fill="#b0b6e8"/>
<rect x="3.00" y="131.87" width="4.35" height="11.28" fill="#5560b8"/>
<rect x="7.30" y="131.87" width="3.55" height="11.28" fill="#5560b8"/>
<rect x="10.80" y="131.87" width="3.55" height="11.28" fill="#d0d4f2"/>
<rect x="14.30" y="131.87" width="3.55" height="11.28" fill="#7880cc"/>
<rect x="17.80" y="131.87" width="3.55" height="11.28" fill="#4652b2"/>
<rect x="21.30" y="131.87" width="3.55" height="11.28" fill="#5560b8"/>
<rect x="24.80" y="131.87" width="3.55" height="11.28" fill="#e8eaf8"/>
<rect x="28.30" y="131.87" width="3.55" height="11.28" fill="#4652b2"/>
<rect x="31.80" y="131.87" width="3.55" height="11.28" fill="#5560b8"/>
<rect x="35.30" y="131.87" width="3.55" height="11.28" fill="#7880cc"/>
<rect x="38.80" y="131.87" width="3.55" height="11.28" fill="#5560b8"/>
<rect x="42.30" y="131.87" width="3.55" height="11.28" fill="#b0b6e8"/>
<rect x="45.80" y="131.87" width="3.55" height="11.28" fill="#e8eaf8"/>
<rect x="49.30" y="131.87" width="3.55" height="11.28" fill="#5560b8"/>
<rect x="52.80" y="131.87" width="3.55" height="11.28" fill="#b0b6e8"/>
<rect x="56.30" y="131.87" width="3.55" height="11.28" fill="#e8eaf8"/>
<rect x="59.80" y="131.87" width="3.55" height="11.28" fill="#d0d4f2"/>
<rect x="63.30" y="131.87" width="3.55" height="11.28" fill="#b0b6e8"/>
<rect x="66.80" y="131.87" width="3.55" height="11.28" fill="#b0b6e8"/>
<rect x="70.30" y="131.87" width="3.55" height="11.28" fill="#4652b2"/>
<rect x="73.80" y="131.87" width="3.55" height="11.28" fill="#4652b2"/>
<rect x="77.30" y="131.87" width="3.55" height="11.28" fill="#4652b2"/>
<rect x="80.80" y="131.87" width="3.55" height="11.28" fill="#7880cc"/>
<rect x="84.30" y="131.87" width="3.55" height="11.28" fill="#4652b2"/>
<rect x="87.80" y="131.87" width="3.55" height="11.28" fill="#4652b2"/>
<rect x="91.30" y="131.87" width="3.55" height="11.28" fill="#4652b2"/>
<rect x="94.80" y="131.87" width="3.55" height="11.28" fill="#4652b2"/>
<rect x="98.30" y="131.87" width="3.55" height="11.28" fill="#4652b2"/>
<rect x="101.80" y="131.87" width="3.55" height="11.28" fill="#4652b2"/>
<rect x="105.30" y="131.87" width="3.55" height="11.28" fill="#4652b2"/>
<rect x="108.80" y="131.87" width="3.55" height="11.28" fill="#7880cc"/>
<rect x="112.30" y="131.87" width="3.55" height="11.28" fill="#5560b8"/>
<rect x="115.80" y="131.87" width="3.55" height="11.28" fill="#5560b8"/>
<rect x="119.30" y="131.87" width="3.55" height="11.28" fill="#5560b8"/>
<rect x="122.80" y="131.87" width="3.55" height="11.28" fill="#5560b8"/>
<rect x="126.30" y="131.87" width="3.55" height="11.28" fill="#7880cc"/>
<rect x="129.80" y="131.87" width="3.55" height="11.28" fill="#7880cc"/>
<rect x="133.30" y="131.87" width="3.55" height="11.28" fill="#5560b8"/>
<rect x="136.80" y="131.87" width="3.55" height="11.28" fill="#4652b2"/>
<rect x="140.30" y="131.87" width="3.55" height="11.28" fill="#4652b2"/>
<rect x="143.80" y="131.87" width="3.55" height="11.28" fill="#4652b2"/>
<rect x="147.30" y="131.87" width="3.55" height="11.28" fill="#4652b2"/>
<rect x="150.80" y="131.87" width="3.55" height="11.28" fill="#4652b2"/>
<rect x="154.30" y="131.87" width="3.55" height="11.28" fill="#5560b8"/>
<rect x="157.80" y="131.87" width="3.55" height="11.28" fill="#5560b8"/>
<rect x="161.30" y="131.87" width="3.55" height="11.28" fill="#5560b8"/>
<rect x="164.80" y="131.87" width="3.55" height="11.28" fill="#7880cc"/>
<rect x="0.30" y="143.09" width="2.75" height="11.28" fill="#b8cdf0"/>
<rect x="3.00" y="143.09" width="4.35" height="11.28" fill="#5560b8"/>
<rect x="7.30" y="143.09" width="3.55" height="11.28" fill="#5560b8"/>
<rect x="10.80" y="143.09" width="3.55" height="11.28" fill="#d42434"/>
<rect x="14.30" y="143.09" width="3.55" height="11.28" fill="#5560b8"/>
<rect x="17.80" y="143.09" width="3.55" height="11.28" fill="#b0b6e8"/>
<rect x="21.30" y="143.09" width="3.55" height="11.28" fill="#b0b6e8"/>
<rect x="24.80" y="143.09" width="3.55" height="11.28" fill="#b0b6e8"/>
<rect x="28.30" y="143.09" width="3.55" height="11.28" fill="#5560b8"/>
<rect x="31.80" y="143.09" width="3.55" height="11.28" fill="#5560b8"/>
<rect x="35.30" y="143.09" width="3.55" height="11.28" fill="#5560b8"/>
<rect x="38.80" y="143.09" width="3.55" height="11.28" fill="#5560b8"/>
<rect x="42.30" y="143.09" width="3.55" height="11.28" fill="#5560b8"/>
<rect x="45.80" y="143.09" width="3.55" height="11.28" fill="#5560b8"/>
<rect x="49.30" y="143.09" width="3.55" height="11.28" fill="#7880cc"/>
<rect x="52.80" y="143.09" width="3.55" height="11.28" fill="#7880cc"/>
<rect x="56.30" y="143.09" width="3.55" height="11.28" fill="#5560b8"/>
<rect x="59.80" y="143.09" width="3.55" height="11.28" fill="#5560b8"/>
<rect x="63.30" y="143.09" width="3.55" height="11.28" fill="#7880cc"/>
<rect x="66.80" y="143.09" width="3.55" height="11.28" fill="#5560b8"/>
<rect x="70.30" y="143.09" width="3.55" height="11.28" fill="#5560b8"/>
<rect x="73.80" y="143.09" width="3.55" height="11.28" fill="#5560b8"/>
<rect x="77.30" y="143.09" width="3.55" height="11.28" fill="#5560b8"/>
<rect x="80.80" y="143.09" width="3.55" height="11.28" fill="#5560b8"/>
<rect x="84.30" y="143.09" width="3.55" height="11.28" fill="#5560b8"/>
<rect x="87.80" y="143.09" width="3.55" height="11.28" fill="#5560b8"/>
<rect x="91.30" y="143.09" width="3.55" height="11.28" fill="#5560b8"/>
<rect x="94.80" y="143.09" width="3.55" height="11.28" fill="#7880cc"/>
<rect x="98.30" y="143.09" width="3.55" height="11.28" fill="#5560b8"/>
<rect x="101.80" y="143.09" width="3.55" height="11.28" fill="#5560b8"/>
<rect x="105.30" y="143.09" width="3.55" height="11.28" fill="#5560b8"/>
<rect x="108.80" y="143.09" width="3.55" height="11.28" fill="#5a54bc"/>
<rect x="112.30" y="143.09" width="3.55" height="11.28" fill="#5a54bc"/>
<rect x="115.80" y="143.09" width="3.55" height="11.28" fill="#5a54bc"/>
<rect x="119.30" y="143.09" width="3.55" height="11.28" fill="#5a54bc"/>
<rect x="122.80" y="143.09" width="3.55" height="11.28" fill="#5a54bc"/>
<rect x="126.30" y="143.09" width="3.55" height="11.28" fill="#5a54bc"/>
<rect x="129.80" y="143.09" width="3.55" height="11.28" fill="#5a54bc"/>
<rect x="133.30" y="143.09" width="3.55" height="11.28" fill="#5560b8"/>
<rect x="136.80" y="143.09" width="3.55" height="11.28" fill="#5560b8"/>
<rect x="140.30" y="143.09" width="3.55" height="11.28" fill="#5560b8"/>
<rect x="143.80" y="143.09" width="3.55" height="11.28" fill="#b0b6e8"/>
<rect x="147.30" y="143.09" width="3.55" height="11.28" fill="#5560b8"/>
<rect x="150.80" y="143.09" width="3.55" height="11.28" fill="#5a54bc"/>
<rect x="154.30" y="143.09" width="3.55" height="11.28" fill="#5a54bc"/>
<rect x="157.80" y="143.09" width="3.55" height="11.28" fill="#5560b8"/>
<rect x="161.30" y="143.09" width="3.55" height="11.28" fill="#5560b8"/>
<rect x="164.80" y="143.09" width="3.55" height="11.28" fill="#5560b8"/>
<rect x="0.30" y="154.32" width="2.75" height="11.28" fill="#b0b6e8"/>
<rect x="3.00" y="154.32" width="4.35" height="11.28" fill="#d42434"/>
<rect x="7.30" y="154.32" width="3.55" height="11.28" fill="#5560b8"/>
<rect x="10.80" y="154.32" width="3.55" height="11.28" fill="#5560b8"/>
<rect x="14.30" y="154.32" width="3.55" height="11.28" fill="#5560b8"/>
<rect x="17.80" y="154.32" width="3.55" height="11.28" fill="#5560b8"/>
<rect x="21.30" y="154.32" width="3.55" height="11.28" fill="#5560b8"/>
<rect x="24.80" y="154.32" width="3.55" height="11.28" fill="#5560b8"/>
<rect x="28.30" y="154.32" width="3.55" height="11.28" fill="#5560b8"/>
<rect x="31.80" y="154.32" width="3.55" height="11.28" fill="#5560b8"/>
<rect x="35.30" y="154.32" width="3.55" height="11.28" fill="#5560b8"/>
<rect x="38.80" y="154.32" width="3.55" height="11.28" fill="#5560b8"/>
<rect x="42.30" y="154.32" width="3.55" height="11.28" fill="#5560b8"/>
<rect x="45.80" y="154.32" width="3.55" height="11.28" fill="#5560b8"/>
<rect x="49.30" y="154.32" width="3.55" height="11.28" fill="#5560b8"/>
<rect x="52.80" y="154.32" width="3.55" height="11.28" fill="#5560b8"/>
<rect x="56.30" y="154.32" width="3.55" height="11.28" fill="#5560b8"/>
<rect x="59.80" y="154.32" width="3.55" height="11.28" fill="#5560b8"/>
<rect x="63.30" y="154.32" width="3.55" height="11.28" fill="#5560b8"/>
<rect x="66.80" y="154.32" width="3.55" height="11.28" fill="#5560b8"/>
<rect x="70.30" y="154.32" width="3.55" height="11.28" fill="#5560b8"/>
<rect x="73.80" y="154.32" width="3.55" height="11.28" fill="#5560b8"/>
<rect x="77.30" y="154.32" width="3.55" height="11.28" fill="#5560b8"/>
<rect x="80.80" y="154.32" width="3.55" height="11.28" fill="#5560b8"/>
<rect x="84.30" y="154.32" width="3.55" height="11.28" fill="#5560b8"/>
<rect x="87.80" y="154.32" width="3.55" height="11.28" fill="#6670c2"/>
<rect x="91.30" y="154.32" width="3.55" height="11.28" fill="#6670c2"/>
<rect x="94.80" y="154.32" width="3.55" height="11.28" fill="#7880cc"/>
<rect x="98.30" y="154.32" width="3.55" height="11.28" fill="#5560b8"/>
<rect x="101.80" y="154.32" width="3.55" height="11.28" fill="#5560b8"/>
<rect x="105.30" y="154.32" width="3.55" height="11.28" fill="#5560b8"/>
<rect x="108.80" y="154.32" width="3.55" height="11.28" fill="#5560b8"/>
<rect x="112.30" y="154.32" width="3.55" height="11.28" fill="#5560b8"/>
<rect x="115.80" y="154.32" width="3.55" height="11.28" fill="#5560b8"/>
<rect x="119.30" y="154.32" width="3.55" height="11.28" fill="#5560b8"/>
<rect x="122.80" y="154.32" width="3.55" height="11.28" fill="#5560b8"/>
<rect x="126.30" y="154.32" width="3.55" height="11.28" fill="#5560b8"/>
<rect x="129.80" y="154.32" width="3.55" height="11.28" fill="#5560b8"/>
<rect x="133.30" y="154.32" width="3.55" height="11.28" fill="#5560b8"/>
<rect x="136.80" y="154.32" width="3.55" height="11.28" fill="#5560b8"/>
<rect x="140.30" y="154.32" width="3.55" height="11.28" fill="#5560b8"/>
<rect x="143.80" y="154.32" width="3.55" height="11.28" fill="#7880cc"/>
<rect x="147.30" y="154.32" width="3.55" height="11.28" fill="#5560b8"/>
<rect x="150.80" y="154.32" width="3.55" height="11.28" fill="#5560b8"/>
<rect x="154.30" y="154.32" width="3.55" height="11.28" fill="#5560b8"/>
<rect x="157.80" y="154.32" width="3.55" height="11.28" fill="#5560b8"/>
<rect x="161.30" y="154.32" width="3.55" height="11.28" fill="#5560b8"/>
<rect x="164.80" y="154.32" width="3.55" height="11.28" fill="#5560b8"/>
<rect x="0.30" y="165.55" width="2.75" height="11.28" fill="#5560b8"/>
<rect x="3.00" y="165.55" width="4.35" height="11.28" fill="#5560b8"/>
<rect x="7.30" y="165.55" width="3.55" height="11.28" fill="#d42434"/>
<rect x="10.80" y="165.55" width="3.55" height="11.28" fill="#5560b8"/>
<rect x="14.30" y="165.55" width="3.55" height="11.28" fill="#5560b8"/>
<rect x="17.80" y="165.55" width="3.55" height="11.28" fill="#5560b8"/>
<rect x="21.30" y="165.55" width="3.55" height="11.28" fill="#5560b8"/>
<rect x="24.80" y="165.55" width="3.55" height="11.28" fill="#5560b8"/>
<rect x="28.30" y="165.55" width="3.55" height="11.28" fill="#5560b8"/>
<rect x="31.80" y="165.55" width="3.55" height="11.28" fill="#5560b8"/>
<rect x="35.30" y="165.55" width="3.55" height="11.28" fill="#5560b8"/>
<rect x="38.80" y="165.55" width="3.55" height="11.28" fill="#5560b8"/>
<rect x="42.30" y="165.55" width="3.55" height="11.28" fill="#5560b8"/>
<rect x="45.80" y="165.55" width="3.55" height="11.28" fill="#5560b8"/>
<rect x="49.30" y="165.55" width="3.55" height="11.28" fill="#5560b8"/>
<rect x="52.80" y="165.55" width="3.55" height="11.28" fill="#5560b8"/>
<rect x="56.30" y="165.55" width="3.55" height="11.28" fill="#5560b8"/>
<rect x="59.80" y="165.55" width="3.55" height="11.28" fill="#5560b8"/>
<rect x="63.30" y="165.55" width="3.55" height="11.28" fill="#5560b8"/>
<rect x="66.80" y="165.55" width="3.55" height="11.28" fill="#5560b8"/>
<rect x="70.30" y="165.55" width="3.55" height="11.28" fill="#5560b8"/>
<rect x="73.80" y="165.55" width="3.55" height="11.28" fill="#5560b8"/>
<rect x="77.30" y="165.55" width="3.55" height="11.28" fill="#5560b8"/>
<rect x="80.80" y="165.55" width="3.55" height="11.28" fill="#5560b8"/>
<rect x="84.30" y="165.55" width="3.55" height="11.28" fill="#5560b8"/>
<rect x="87.80" y="165.55" width="3.55" height="11.28" fill="#5560b8"/>
<rect x="91.30" y="165.55" width="3.55" height="11.28" fill="#5560b8"/>
<rect x="94.80" y="165.55" width="3.55" height="11.28" fill="#5560b8"/>
<rect x="98.30" y="165.55" width="3.55" height="11.28" fill="#b0b6e8"/>
<rect x="101.80" y="165.55" width="3.55" height="11.28" fill="#5560b8"/>
<rect x="105.30" y="165.55" width="3.55" height="11.28" fill="#6670c2"/>
<rect x="108.80" y="165.55" width="3.55" height="11.28" fill="#5560b8"/>
<rect x="112.30" y="165.55" width="3.55" height="11.28" fill="#5560b8"/>
<rect x="115.80" y="165.55" width="3.55" height="11.28" fill="#5560b8"/>
<rect x="119.30" y="165.55" width="3.55" height="11.28" fill="#5560b8"/>
<rect x="122.80" y="165.55" width="3.55" height="11.28" fill="#5560b8"/>
<rect x="126.30" y="165.55" width="3.55" height="11.28" fill="#5560b8"/>
<rect x="129.80" y="165.55" width="3.55" height="11.28" fill="#5560b8"/>
<rect x="133.30" y="165.55" width="3.55" height="11.28" fill="#5560b8"/>
<rect x="136.80" y="165.55" width="3.55" height="11.28" fill="#5560b8"/>
<rect x="140.30" y="165.55" width="3.55" height="11.28" fill="#5560b8"/>
<rect x="143.80" y="165.55" width="3.55" height="11.28" fill="#5560b8"/>
<rect x="147.30" y="165.55" width="3.55" height="11.28" fill="#5560b8"/>
<rect x="150.80" y="165.55" width="3.55" height="11.28" fill="#5560b8"/>
<rect x="154.30" y="165.55" width="3.55" height="11.28" fill="#5560b8"/>
<rect x="157.80" y="165.55" width="3.55" height="11.28" fill="#5560b8"/>
<rect x="161.30" y="165.55" width="3.55" height="11.28" fill="#5560b8"/>
<rect x="164.80" y="165.55" width="3.55" height="11.28" fill="#5560b8"/>
<rect x="0.30" y="176.77" width="2.75" height="11.28" fill="#d42434"/>
<rect x="3.00" y="176.77" width="4.35" height="11.28" fill="#5560b8"/>
<rect x="7.30" y="176.77" width="3.55" height="11.28" fill="#5560b8"/>
<rect x="10.80" y="176.77" width="3.55" height="11.28" fill="#5560b8"/>
<rect x="14.30" y="176.77" width="3.55" height="11.28" fill="#5560b8"/>
<rect x="17.80" y="176.77" width="3.55" height="11.28" fill="#5560b8"/>
<rect x="21.30" y="176.77" width="3.55" height="11.28" fill="#5560b8"/>
<rect x="24.80" y="176.77" width="3.55" height="11.28" fill="#5560b8"/>
<rect x="28.30" y="176.77" width="3.55" height="11.28" fill="#5560b8"/>
<rect x="31.80" y="176.77" width="3.55" height="11.28" fill="#5560b8"/>
<rect x="35.30" y="176.77" width="3.55" height="11.28" fill="#5560b8"/>
<rect x="38.80" y="176.77" width="3.55" height="11.28" fill="#5560b8"/>
<rect x="42.30" y="176.77" width="3.55" height="11.28" fill="#5560b8"/>
<rect x="45.80" y="176.77" width="3.55" height="11.28" fill="#5560b8"/>
<rect x="49.30" y="176.77" width="3.55" height="11.28" fill="#5560b8"/>
<rect x="52.80" y="176.77" width="3.55" height="11.28" fill="#5560b8"/>
<rect x="56.30" y="176.77" width="3.55" height="11.28" fill="#5560b8"/>
<rect x="59.80" y="176.77" width="3.55" height="11.28" fill="#5560b8"/>
<rect x="63.30" y="176.77" width="3.55" height="11.28" fill="#5560b8"/>
<rect x="66.80" y="176.77" width="3.55" height="11.28" fill="#5560b8"/>
<rect x="70.30" y="176.77" width="3.55" height="11.28" fill="#5560b8"/>
<rect x="73.80" y="176.77" width="3.55" height="11.28" fill="#5560b8"/>
<rect x="77.30" y="176.77" width="3.55" height="11.28" fill="#5560b8"/>
<rect x="80.80" y="176.77" width="3.55" height="11.28" fill="#5560b8"/>
<rect x="84.30" y="176.77" width="3.55" height="11.28" fill="#6670c2"/>
<rect x="87.80" y="176.77" width="3.55" height="11.28" fill="#5560b8"/>
<rect x="91.30" y="176.77" width="3.55" height="11.28" fill="#5560b8"/>
<rect x="94.80" y="176.77" width="3.55" height="11.28" fill="#5560b8"/>
<rect x="98.30" y="176.77" width="3.55" height="11.28" fill="#5560b8"/>
<rect x="101.80" y="176.77" width="3.55" height="11.28" fill="#5560b8"/>
<rect x="105.30" y="176.77" width="3.55" height="11.28" fill="#5560b8"/>
<rect x="108.80" y="176.77" width="3.55" height="11.28" fill="#5560b8"/>
<rect x="112.30" y="176.77" width="3.55" height="11.28" fill="#5560b8"/>
<rect x="115.80" y="176.77" width="3.55" height="11.28" fill="#5560b8"/>
<rect x="119.30" y="176.77" width="3.55" height="11.28" fill="#5560b8"/>
<rect x="122.80" y="176.77" width="3.55" height="11.28" fill="#5560b8"/>
<rect x="126.30" y="176.77" width="3.55" height="11.28" fill="#5560b8"/>
<rect x="129.80" y="176.77" width="3.55" height="11.28" fill="#5560b8"/>
<rect x="133.30" y="176.77" width="3.55" height="11.28" fill="#5560b8"/>
<rect x="136.80" y="176.77" width="3.55" height="11.28" fill="#5560b8"/>
<rect x="140.30" y="176.77" width="3.55" height="11.28" fill="#5560b8"/>
<rect x="143.80" y="176.77" width="3.55" height="11.28" fill="#5560b8"/>
<rect x="147.30" y="176.77" width="3.55" height="11.28" fill="#5560b8"/>
<rect x="150.80" y="176.77" width="3.55" height="11.28" fill="#5560b8"/>
<rect x="154.30" y="176.77" width="3.55" height="11.28" fill="#5560b8"/>
<rect x="157.80" y="176.77" width="3.55" height="11.28" fill="#5560b8"/>
<rect x="161.30" y="176.77" width="3.55" height="11.28" fill="#5560b8"/>
<rect x="164.80" y="176.77" width="3.55" height="11.28" fill="#5560b8"/>
</g>
<rect x="2.65" y="18.0" width="4.5" height="187.4" rx="1.3" fill="none" stroke="#1a2260" stroke-width="1.0"/>
<text x="170.8" y="28.10" font-size="4.42" fill="#1a1a1a">CASSLEESKGYF</text>
<text x="170.8" y="39.20" font-size="4.42" fill="#1a1a1a">CASSLYFSSGNTIYF</text>
<text x="170.8" y="50.30" font-size="4.42" fill="#1a1a1a">CASKARANQPQHF</text>
<text x="170.8" y="61.40" font-size="4.42" fill="#1a1a1a">CASTLGAGTEAFF</text>
<text x="170.8" y="72.50" font-size="4.42" fill="#1a1a1a">CASSLGSDGYTF</text>
<text x="170.8" y="83.60" font-size="4.42" fill="#1a1a1a">CASNTEVDQPQHF</text>
<text x="170.8" y="94.70" font-size="4.42" fill="#1a1a1a">CASNKLGYQPQHF</text>
<text x="170.8" y="105.80" font-size="4.42" fill="#1a1a1a">CASSLLENQPQHF</text>
<text x="170.8" y="116.90" font-size="4.42" fill="#1a1a1a">CAIRADYYGYTF</text>
<text x="170.8" y="128.00" font-size="4.42" fill="#1a1a1a">CASSSRDNYEQYF</text>
<text x="170.8" y="139.10" font-size="4.42" fill="#1a1a1a">CASSPRGSNQPQHF</text>
<text x="170.8" y="150.20" font-size="4.42" fill="#1a1a1a">CASSLSGTGYHEQYF</text>
<text x="170.8" y="161.30" font-size="4.42" fill="#1a1a1a">CASSLTGGYTGELFF</text>
<text x="170.8" y="172.40" font-size="4.42" fill="#1a1a1a">CASSLQGGMGNQPQHF</text>
<text x="170.8" y="183.50" font-size="4.42" fill="#1a1a1a">CASSGTTYGYTF</text>
<text transform="translate(2.35,205.5) rotate(-90)" font-size="2.9" letter-spacing="0.4" fill="#1a1a1a">MANA 46</text>
<text transform="translate(5.85,205.5) rotate(-90)" font-size="2.9" letter-spacing="0.4" fill="#1a1a1a">MANA 47</text>
<text transform="translate(9.75,205.5) rotate(-90)" font-size="2.9" letter-spacing="0.4" fill="#1a1a1a">CEF</text>
<text transform="translate(13.25,205.5) rotate(-90)" font-size="2.9" letter-spacing="0.4" fill="#1a1a1a">MANA 1</text>
<text transform="translate(16.75,205.5) rotate(-90)" font-size="2.9" letter-spacing="0.4" fill="#1a1a1a">MANA 2</text>
<text transform="translate(20.25,205.5) rotate(-90)" font-size="2.9" letter-spacing="0.4" fill="#1a1a1a">MANA 3</text>
<text transform="translate(23.75,205.5) rotate(-90)" font-size="2.9" letter-spacing="0.4" fill="#1a1a1a">MANA 4</text>
<text transform="translate(27.25,205.5) rotate(-90)" font-size="2.9" letter-spacing="0.4" fill="#1a1a1a">MANA 5</text>
<text transform="translate(30.75,205.5) rotate(-90)" font-size="2.9" letter-spacing="0.4" fill="#1a1a1a">MANA 6</text>
<text transform="translate(34.25,205.5) rotate(-90)" font-size="2.9" letter-spacing="0.4" fill="#1a1a1a">MANA 7</text>
<text transform="translate(37.75,205.5) rotate(-90)" font-size="2.9" letter-spacing="0.4" fill="#1a1a1a">MANA 8</text>
<text transform="translate(41.25,205.5) rotate(-90)" font-size="2.9" letter-spacing="0.4" fill="#1a1a1a">MANA 9</text>
<text transform="translate(44.75,205.5) rotate(-90)" font-size="2.9" letter-spacing="0.4" fill="#1a1a1a">MANA 10</text>
<text transform="translate(48.25,205.5) rotate(-90)" font-size="2.9" letter-spacing="0.4" fill="#1a1a1a">MANA 11</text>
<text transform="translate(51.75,205.5) rotate(-90)" font-size="2.9" letter-spacing="0.4" fill="#1a1a1a">MANA 12</text>
<text transform="translate(55.25,205.5) rotate(-90)" font-size="2.9" letter-spacing="0.4" fill="#1a1a1a">MANA 13</text>
<text transform="translate(58.75,205.5) rotate(-90)" font-size="2.9" letter-spacing="0.4" fill="#1a1a1a">MANA 14</text>
<text transform="translate(62.25,205.5) rotate(-90)" font-size="2.9" letter-spacing="0.4" fill="#1a1a1a">MANA 15</text>
<text transform="translate(65.75,205.5) rotate(-90)" font-size="2.9" letter-spacing="0.4" fill="#1a1a1a">MANA 16</text>
<text transform="translate(69.25,205.5) rotate(-90)" font-size="2.9" letter-spacing="0.4" fill="#1a1a1a">MANA 17</text>
<text transform="translate(72.75,205.5) rotate(-90)" font-size="2.9" letter-spacing="0.4" fill="#1a1a1a">MANA 18</text>
<text transform="translate(76.25,205.5) rotate(-90)" font-size="2.9" letter-spacing="0.4" fill="#1a1a1a">MANA 19</text>
<text transform="translate(79.75,205.5) rotate(-90)" font-size="2.9" letter-spacing="0.4" fill="#1a1a1a">MANA 20</text>
<text transform="translate(83.25,205.5) rotate(-90)" font-size="2.9" letter-spacing="0.4" fill="#1a1a1a">MANA 21</text>
<text transform="translate(86.75,205.5) rotate(-90)" font-size="2.9" letter-spacing="0.4" fill="#1a1a1a">MANA 22</text>
<text transform="translate(90.25,205.5) rotate(-90)" font-size="2.9" letter-spacing="0.4" fill="#1a1a1a">MANA 23</text>
<text transform="translate(93.75,205.5) rotate(-90)" font-size="2.9" letter-spacing="0.4" fill="#1a1a1a">MANA 24</text>
<text transform="translate(97.25,205.5) rotate(-90)" font-size="2.9" letter-spacing="0.4" fill="#1a1a1a">MANA 25</text>
<text transform="translate(100.75,205.5) rotate(-90)" font-size="2.9" letter-spacing="0.4" fill="#1a1a1a">MANA 26</text>
<text transform="translate(104.25,205.5) rotate(-90)" font-size="2.9" letter-spacing="0.4" fill="#1a1a1a">MANA 27</text>
<text transform="translate(107.75,205.5) rotate(-90)" font-size="2.9" letter-spacing="0.4" fill="#1a1a1a">MANA 28</text>
<text transform="translate(111.25,205.5) rotate(-90)" font-size="2.9" letter-spacing="0.4" fill="#1a1a1a">MANA 29</text>
<text transform="translate(114.75,205.5) rotate(-90)" font-size="2.9" letter-spacing="0.4" fill="#1a1a1a">MANA 30</text>
<text transform="translate(118.25,205.5) rotate(-90)" font-size="2.9" letter-spacing="0.4" fill="#1a1a1a">MANA 31</text>
<text transform="translate(121.75,205.5) rotate(-90)" font-size="2.9" letter-spacing="0.4" fill="#1a1a1a">MANA 32</text>
<text transform="translate(125.25,205.5) rotate(-90)" font-size="2.9" letter-spacing="0.4" fill="#1a1a1a">MANA 33</text>
<text transform="translate(128.75,205.5) rotate(-90)" font-size="2.9" letter-spacing="0.4" fill="#1a1a1a">MANA 34</text>
<text transform="translate(132.25,205.5) rotate(-90)" font-size="2.9" letter-spacing="0.4" fill="#1a1a1a">MANA 35</text>
<text transform="translate(135.75,205.5) rotate(-90)" font-size="2.9" letter-spacing="0.4" fill="#1a1a1a">MANA 36</text>
<text transform="translate(139.25,205.5) rotate(-90)" font-size="2.9" letter-spacing="0.4" fill="#1a1a1a">MANA 37</text>
<text transform="translate(142.75,205.5) rotate(-90)" font-size="2.9" letter-spacing="0.4" fill="#1a1a1a">MANA 38</text>
<text transform="translate(146.25,205.5) rotate(-90)" font-size="2.9" letter-spacing="0.4" fill="#1a1a1a">MANA 39</text>
<text transform="translate(149.75,205.5) rotate(-90)" font-size="2.9" letter-spacing="0.4" fill="#1a1a1a">MANA 40</text>
<text transform="translate(153.25,205.5) rotate(-90)" font-size="2.9" letter-spacing="0.4" fill="#1a1a1a">MANA 41</text>
<text transform="translate(156.75,205.5) rotate(-90)" font-size="2.9" letter-spacing="0.4" fill="#1a1a1a">MANA 42</text>
<text transform="translate(160.25,205.5) rotate(-90)" font-size="2.9" letter-spacing="0.4" fill="#1a1a1a">MANA 43</text>
<text transform="translate(163.75,205.5) rotate(-90)" font-size="2.9" letter-spacing="0.4" fill="#1a1a1a">MANA 44</text>
<text transform="translate(167.25,205.5) rotate(-90)" font-size="2.9" letter-spacing="0.4" fill="#1a1a1a">MANA 45</text>
<text x="230.4" y="11.6" font-size="12.6" font-weight="bold" fill="#111" stroke="#111" stroke-width="0.35">B</text>
<line x1="270.7" y1="27.2" x2="270.7" y2="115.0" stroke="#5a5a5a" stroke-width="0.9"/>
<line x1="270.7" y1="115.0" x2="520" y2="115.0" stroke="#7a4048" stroke-width="1"/>
<line x1="269.3" y1="115.00" x2="270.7" y2="115.00" stroke="#5a5a5a" stroke-width="0.6"/>
<text x="267.09999999999997" y="116.80" font-size="5" text-anchor="end" fill="#222">0</text>
<line x1="269.3" y1="97.50" x2="270.7" y2="97.50" stroke="#5a5a5a" stroke-width="0.6"/>
<text x="267.09999999999997" y="99.30" font-size="5" text-anchor="end" fill="#222">25</text>
<line x1="269.3" y1="80.00" x2="270.7" y2="80.00" stroke="#5a5a5a" stroke-width="0.6"/>
<text x="267.09999999999997" y="81.80" font-size="5" text-anchor="end" fill="#222">50</text>
<line x1="269.3" y1="62.50" x2="270.7" y2="62.50" stroke="#5a5a5a" stroke-width="0.6"/>
<text x="267.09999999999997" y="64.30" font-size="5" text-anchor="end" fill="#222">75</text>
<line x1="269.3" y1="45.00" x2="270.7" y2="45.00" stroke="#5a5a5a" stroke-width="0.6"/>
<text x="267.09999999999997" y="46.80" font-size="5" text-anchor="end" fill="#222">100</text>
<line x1="269.3" y1="27.50" x2="270.7" y2="27.50" stroke="#5a5a5a" stroke-width="0.6"/>
<text x="267.09999999999997" y="29.30" font-size="5" text-anchor="end" fill="#222">125</text>
<text transform="translate(247.2,71.5) rotate(-90)" font-size="5.5" text-anchor="middle" fill="#222">Abundance of MANAFEST+clonotypes</text>
<text transform="translate(253.1,71.5) rotate(-90)" font-size="5.5" text-anchor="middle" fill="#222">after culture</text>
<text transform="translate(274.90,118) rotate(-90)" font-size="4.1" text-anchor="end" fill="#333">No peptide</text>
<text transform="translate(279.97,118) rotate(-90)" font-size="4.1" text-anchor="end" fill="#333">MANA 2</text>
<text transform="translate(285.04,118) rotate(-90)" font-size="4.1" text-anchor="end" fill="#333">MANA 3</text>
<text transform="translate(290.11,118) rotate(-90)" font-size="4.1" text-anchor="end" fill="#333">MANA 4</text>
<text transform="translate(295.18,118) rotate(-90)" font-size="4.1" text-anchor="end" fill="#333">MANA 5</text>
<text transform="translate(300.25,118) rotate(-90)" font-size="4.1" text-anchor="end" fill="#333">MANA 6</text>
<text transform="translate(305.32,118) rotate(-90)" font-size="4.1" text-anchor="end" fill="#333">MANA 7</text>
<text transform="translate(310.39,118) rotate(-90)" font-size="4.1" text-anchor="end" fill="#333">MANA 8</text>
<text transform="translate(315.46,118) rotate(-90)" font-size="4.1" text-anchor="end" fill="#333">MANA 9</text>
<text transform="translate(320.53,118) rotate(-90)" font-size="4.1" text-anchor="end" fill="#333">MANA 10</text>
<text transform="translate(325.60,118) rotate(-90)" font-size="4.1" text-anchor="end" fill="#333">MANA 11</text>
<text transform="translate(330.67,118) rotate(-90)" font-size="4.1" text-anchor="end" fill="#333">MANA 12</text>
<text transform="translate(335.74,118) rotate(-90)" font-size="4.1" text-anchor="end" fill="#333">MANA 13</text>
<text transform="translate(340.81,118) rotate(-90)" font-size="4.1" text-anchor="end" fill="#333">MANA 14</text>
<text transform="translate(345.88,118) rotate(-90)" font-size="4.1" text-anchor="end" fill="#333">MANA 15</text>
<text transform="translate(350.95,118) rotate(-90)" font-size="4.1" text-anchor="end" fill="#333">MANA 16</text>
<text transform="translate(356.02,118) rotate(-90)" font-size="4.1" text-anchor="end" fill="#333">MANA 17</text>
<text transform="translate(361.09,118) rotate(-90)" font-size="4.1" text-anchor="end" fill="#333">MANA 18</text>
<text transform="translate(366.16,118) rotate(-90)" font-size="4.1" text-anchor="end" fill="#333">MANA 19</text>
<text transform="translate(371.23,118) rotate(-90)" font-size="4.1" text-anchor="end" fill="#333">MANA 20</text>
<text transform="translate(376.30,118) rotate(-90)" font-size="4.1" text-anchor="end" fill="#333">MANA 21</text>
<text transform="translate(381.37,118) rotate(-90)" font-size="4.1" text-anchor="end" fill="#333">MANA 22</text>
<text transform="translate(386.44,118) rotate(-90)" font-size="4.1" text-anchor="end" fill="#333">MANA 23</text>
<text transform="translate(391.51,118) rotate(-90)" font-size="4.1" text-anchor="end" fill="#333">MANA 24</text>
<text transform="translate(396.58,118) rotate(-90)" font-size="4.1" text-anchor="end" fill="#333">MANA 25</text>
<text transform="translate(401.65,118) rotate(-90)" font-size="4.1" text-anchor="end" fill="#333">MANA 26</text>
<text transform="translate(406.72,118) rotate(-90)" font-size="4.1" text-anchor="end" fill="#333">MANA 27</text>
<text transform="translate(411.79,118) rotate(-90)" font-size="4.1" text-anchor="end" fill="#333">MANA 28</text>
<text transform="translate(416.86,118) rotate(-90)" font-size="4.1" text-anchor="end" fill="#333">MANA 29</text>
<text transform="translate(421.93,118) rotate(-90)" font-size="4.1" text-anchor="end" fill="#333">MANA 30</text>
<text transform="translate(427.00,118) rotate(-90)" font-size="4.1" text-anchor="end" fill="#333">MANA 31</text>
<text transform="translate(432.07,118) rotate(-90)" font-size="4.1" text-anchor="end" fill="#333">MANA 32</text>
<text transform="translate(437.14,118) rotate(-90)" font-size="4.1" text-anchor="end" fill="#333">MANA 33</text>
<text transform="translate(442.21,118) rotate(-90)" font-size="4.1" text-anchor="end" fill="#333">MANA 34</text>
<text transform="translate(447.28,118) rotate(-90)" font-size="4.1" text-anchor="end" fill="#333">MANA 35</text>
<text transform="translate(452.35,118) rotate(-90)" font-size="4.1" text-anchor="end" fill="#333">MANA 36</text>
<text transform="translate(457.42,118) rotate(-90)" font-size="4.1" text-anchor="end" fill="#333">MANA 37</text>
<text transform="translate(462.49,118) rotate(-90)" font-size="4.1" text-anchor="end" fill="#333">MANA 38</text>
<text transform="translate(467.56,118) rotate(-90)" font-size="4.1" text-anchor="end" fill="#333">MANA 39</text>
<text transform="translate(472.63,118) rotate(-90)" font-size="4.1" text-anchor="end" fill="#333">MANA 40</text>
<text transform="translate(477.70,118) rotate(-90)" font-size="4.1" text-anchor="end" fill="#333">MANA 41</text>
<text transform="translate(482.77,118) rotate(-90)" font-size="4.1" text-anchor="end" fill="#333">MANA 42</text>
<text transform="translate(487.84,118) rotate(-90)" font-size="4.1" text-anchor="end" fill="#333">MANA 43</text>
<text transform="translate(492.91,118) rotate(-90)" font-size="4.1" text-anchor="end" fill="#333">MANA 44</text>
<text transform="translate(497.98,118) rotate(-90)" font-size="4.1" text-anchor="end" fill="#333">MANA 45</text>
<text transform="translate(503.05,118) rotate(-90)" font-size="4.1" text-anchor="end" fill="#333">MANA 46</text>
<text transform="translate(508.12,118) rotate(-90)" font-size="4.1" text-anchor="end" fill="#333">MANA 47</text>
<text transform="translate(513.19,118) rotate(-90)" font-size="4.1" text-anchor="end" fill="#333">MANA 48</text>
<text transform="translate(518.26,118) rotate(-90)" font-size="4.1" text-anchor="end" fill="#333">CEF</text>
<circle cx="273.50" cy="114.60" r="1.2" fill="#4a3438"/>
<circle cx="278.57" cy="114.60" r="1.2" fill="#4a3438"/>
<circle cx="283.64" cy="114.60" r="1.2" fill="#4a3438"/>
<circle cx="288.71" cy="114.60" r="1.2" fill="#4a3438"/>
<circle cx="293.78" cy="114.60" r="1.2" fill="#4a3438"/>
<circle cx="298.85" cy="114.60" r="1.2" fill="#4a3438"/>
<circle cx="303.92" cy="114.60" r="1.2" fill="#4a3438"/>
<circle cx="308.99" cy="114.60" r="1.2" fill="#4a3438"/>
<circle cx="314.06" cy="114.60" r="1.2" fill="#4a3438"/>
<circle cx="319.13" cy="114.60" r="1.2" fill="#4a3438"/>
<circle cx="324.20" cy="114.60" r="1.2" fill="#4a3438"/>
<circle cx="329.27" cy="114.60" r="1.2" fill="#4a3438"/>
<circle cx="334.34" cy="114.60" r="1.2" fill="#4a3438"/>
<circle cx="339.41" cy="114.60" r="1.2" fill="#4a3438"/>
<circle cx="344.48" cy="114.60" r="1.2" fill="#4a3438"/>
<circle cx="349.55" cy="114.60" r="1.2" fill="#4a3438"/>
<circle cx="354.62" cy="114.60" r="1.2" fill="#4a3438"/>
<circle cx="359.69" cy="114.60" r="1.2" fill="#4a3438"/>
<circle cx="364.76" cy="114.60" r="1.2" fill="#4a3438"/>
<circle cx="369.83" cy="114.60" r="1.2" fill="#4a3438"/>
<circle cx="374.90" cy="114.60" r="1.2" fill="#4a3438"/>
<circle cx="379.97" cy="114.60" r="1.2" fill="#4a3438"/>
<circle cx="385.04" cy="114.60" r="1.2" fill="#4a3438"/>
<circle cx="390.11" cy="114.60" r="1.2" fill="#4a3438"/>
<circle cx="395.18" cy="114.60" r="1.2" fill="#4a3438"/>
<circle cx="400.25" cy="114.60" r="1.2" fill="#4a3438"/>
<circle cx="405.32" cy="114.60" r="1.2" fill="#4a3438"/>
<circle cx="410.39" cy="114.60" r="1.2" fill="#4a3438"/>
<circle cx="415.46" cy="114.60" r="1.2" fill="#4a3438"/>
<circle cx="420.53" cy="114.60" r="1.2" fill="#4a3438"/>
<circle cx="425.60" cy="114.60" r="1.2" fill="#4a3438"/>
<circle cx="430.67" cy="114.60" r="1.2" fill="#4a3438"/>
<circle cx="435.74" cy="114.60" r="1.2" fill="#4a3438"/>
<circle cx="440.81" cy="114.60" r="1.2" fill="#4a3438"/>
<circle cx="445.88" cy="114.60" r="1.2" fill="#4a3438"/>
<circle cx="450.95" cy="114.60" r="1.2" fill="#4a3438"/>
<circle cx="456.02" cy="114.60" r="1.2" fill="#4a3438"/>
<circle cx="461.09" cy="114.60" r="1.2" fill="#4a3438"/>
<circle cx="466.16" cy="114.60" r="1.2" fill="#4a3438"/>
<circle cx="471.23" cy="114.60" r="1.2" fill="#4a3438"/>
<circle cx="476.30" cy="114.60" r="1.2" fill="#4a3438"/>
<circle cx="481.37" cy="114.60" r="1.2" fill="#4a3438"/>
<circle cx="486.44" cy="114.60" r="1.2" fill="#4a3438"/>
<circle cx="491.51" cy="114.60" r="1.2" fill="#4a3438"/>
<circle cx="496.58" cy="114.60" r="1.2" fill="#4a3438"/>
<circle cx="501.65" cy="114.60" r="1.2" fill="#4a3438"/>
<circle cx="506.72" cy="114.60" r="1.2" fill="#4a3438"/>
<circle cx="511.79" cy="114.60" r="1.2" fill="#4a3438"/>
<circle cx="516.86" cy="114.60" r="1.2" fill="#4a3438"/>
<rect x="272.30" y="112.96" width="2.4" height="2.4" fill="#b83038"/>
<rect x="302.72" y="95.81" width="2.4" height="2.4" fill="#b83038"/>
<rect x="328.07" y="113.10" width="2.4" height="2.4" fill="#b83038"/>
<rect x="333.14" y="112.40" width="2.4" height="2.4" fill="#b83038"/>
<rect x="368.63" y="113.24" width="2.4" height="2.4" fill="#b83038"/>
<rect x="419.33" y="111.35" width="2.4" height="2.4" fill="#b83038"/>
<rect x="475.10" y="112.89" width="2.4" height="2.4" fill="#b83038"/>
<rect x="485.24" y="112.96" width="2.4" height="2.4" fill="#b83038"/>
<rect x="510.59" y="108.69" width="2.4" height="2.4" fill="#b83038"/>
<circle cx="293.78" cy="112.48" r="1.35" fill="#2e3478"/>
<circle cx="303.92" cy="37.65" r="1.35" fill="#2e3478"/>
<circle cx="339.41" cy="113.32" r="1.35" fill="#2e3478"/>
<circle cx="344.48" cy="113.32" r="1.35" fill="#2e3478"/>
<circle cx="430.67" cy="113.32" r="1.35" fill="#2e3478"/>
<circle cx="461.09" cy="110.80" r="1.35" fill="#2e3478"/>
<circle cx="491.51" cy="112.34" r="1.35" fill="#2e3478"/>
<circle cx="496.58" cy="112.62" r="1.35" fill="#2e3478"/>
<circle cx="511.79" cy="113.25" r="1.35" fill="#2e3478"/>
<path d="M302.82,104.84 L305.02,104.84 L303.92,102.84 Z" fill="#4a7a60"/>
<text x="354" y="31.2" font-size="5.6" fill="#222">TCR Vβ CDR3 clonotype</text>
<line x1="354" y1="31.9" x2="416.3" y2="31.9" stroke="#555" stroke-width="0.45"/>
<circle cx="357.4" cy="36.5" r="1.1" fill="#2a2e6c"/>
<rect x="356.4" y="42.9" width="2" height="2" fill="#a82a2e"/>
<path d="M356.3,52.1 L358.5,52.1 L357.4,50.2 Z" fill="#4a7a60"/>
<text x="361.6" y="38.50" font-size="5.5" fill="#222">CASSLTGGYTGELFF</text>
<text x="361.6" y="45.90" font-size="5.5" fill="#222">CASNKLGYQPQHF</text>
<text x="361.6" y="53.30" font-size="5.5" fill="#222">CASSLLENQPQHF</text>
<text x="230.0" y="159.6" font-size="12.6" font-weight="bold" fill="#111" stroke="#111" stroke-width="0.35">C</text>
<line x1="272.5" y1="165.8" x2="272.5" y2="249.8" stroke="#5a5a5a" stroke-width="0.9"/>
<line x1="272.5" y1="249.8" x2="404" y2="249.8" stroke="#5a5a5a" stroke-width="0.9"/>
<line x1="271.1" y1="249.80" x2="272.5" y2="249.80" stroke="#5a5a5a" stroke-width="0.6"/>
<text x="268.5" y="251.60" font-size="5" text-anchor="end" fill="#222">0.00</text>
<line x1="271.1" y1="233.10" x2="272.5" y2="233.10" stroke="#5a5a5a" stroke-width="0.6"/>
<text x="268.5" y="234.90" font-size="5" text-anchor="end" fill="#222">0.01</text>
<line x1="271.1" y1="216.40" x2="272.5" y2="216.40" stroke="#5a5a5a" stroke-width="0.6"/>
<text x="268.5" y="218.20" font-size="5" text-anchor="end" fill="#222">0.02</text>
<line x1="271.1" y1="199.70" x2="272.5" y2="199.70" stroke="#5a5a5a" stroke-width="0.6"/>
<text x="268.5" y="201.50" font-size="5" text-anchor="end" fill="#222">0.03</text>
<line x1="271.1" y1="183.00" x2="272.5" y2="183.00" stroke="#5a5a5a" stroke-width="0.6"/>
<text x="268.5" y="184.80" font-size="5" text-anchor="end" fill="#222">0.04</text>
<line x1="271.1" y1="166.30" x2="272.5" y2="166.30" stroke="#5a5a5a" stroke-width="0.6"/>
<text x="268.5" y="168.10" font-size="5" text-anchor="end" fill="#222">0.05</text>
<line x1="296.5" y1="249.8" x2="296.5" y2="251.10000000000002" stroke="#5a5a5a" stroke-width="0.6"/>
<line x1="338.5" y1="249.8" x2="338.5" y2="251.10000000000002" stroke="#5a5a5a" stroke-width="0.6"/>
<line x1="380.5" y1="249.8" x2="380.5" y2="251.10000000000002" stroke="#5a5a5a" stroke-width="0.6"/>
<text transform="translate(243.6,206.4) rotate(-90)" font-size="5.6" text-anchor="middle" fill="#222">Frequency of MANAFEST+</text>
<text transform="translate(249.8,206.4) rotate(-90)" font-size="5.6" text-anchor="middle" fill="#222">clonotypes (%)</text>
<text x="296.8" y="258.30" font-size="5.6" text-anchor="middle" fill="#222">Resection tumor</text>
<text x="296.8" y="265.00" font-size="5.6" text-anchor="middle" fill="#222">(fresh frozen)</text>
<text x="338.5" y="258.30" font-size="5.6" text-anchor="middle" fill="#222">Resection</text>
<text x="338.5" y="265.00" font-size="5.6" text-anchor="middle" fill="#222">tumor stroma</text>
<text x="338.5" y="271.70" font-size="5.6" text-anchor="middle" fill="#222">(FFPE)</text>
<text x="380.5" y="258.30" font-size="5.6" text-anchor="middle" fill="#222">Long-term followup</text>
<text x="380.5" y="265.00" font-size="5.6" text-anchor="middle" fill="#222">peripheral</text>
<text x="380.5" y="271.70" font-size="5.6" text-anchor="middle" fill="#222">blood T cells</text>
<circle cx="296.5" cy="183.50" r="1.25" fill="#2a2e6c"/>
<rect x="297.6" y="241.60" width="2.7" height="2.7" fill="#bf2a30"/>
<circle cx="294.8" cy="243.45" r="0.8" fill="#7a8a90"/>
<path d="M337.4,177.89 L339.6,177.89 L338.5,175.89 Z" fill="#4a7a60"/>
<rect x="337.15" y="190.00" width="2.7" height="2.7" fill="#bf2a30"/>
<circle cx="338.5" cy="206.38" r="1.25" fill="#2a2e6c"/>
<circle cx="376.3" cy="246.46" r="1.25" fill="#2a2e6c"/>
<rect x="383.05" y="248.45" width="2.7" height="2.7" fill="#bf2a30"/>
<path d="M379.3,250.70 L381.5,250.70 L380.4,248.70 Z" fill="#3d5a50"/>
</svg></body></html>
